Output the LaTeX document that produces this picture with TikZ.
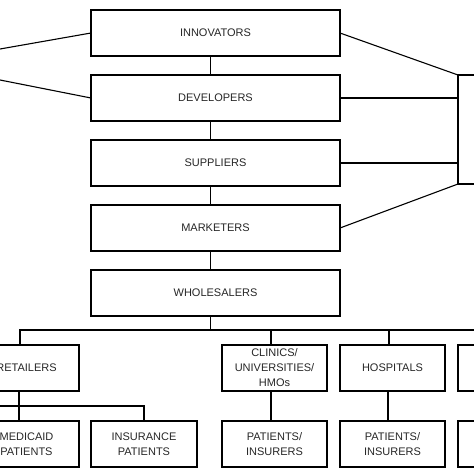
\documentclass[tikz,border=0pt]{standalone}
\usepackage{fontspec}
\setmainfont{Liberation Sans}
\usetikzlibrary{positioning}

\begin{document}
\begin{tikzpicture}[x=1pt,y=-1pt,line width=1.1pt]
\tikzset{stage/.style={rectangle,minimum width=249pt,minimum height=46pt,draw,outer sep=0pt,inner sep=0pt,align=center,text=black!85,font=\fontsize{11}{15}\selectfont}}
\tikzset{outlet/.style={stage,minimum width=105pt}}
\useasboundingbox (0,0) rectangle (474,474);
\clip (0,0) rectangle (474,474);
\node[stage] (innovators) at (215.5,33) {INNOVATORS};
\node[stage, below = 19pt of innovators] (developers) {DEVELOPERS};
\node[stage, below = 19pt of developers] (suppliers) {SUPPLIERS};
\node[stage, below = 19pt of suppliers] (marketers) {MARKETERS};
\node[stage, below = 19pt of marketers] (wholesalers) {WHOLESALERS};
\node[outlet, minimum height=109pt] (oversight) at (510.5,129.5) {};
\node[outlet] (retailers) at (26.5,368) {RETAILERS};
\node[outlet] (clinics) at (274.5,368) {CLINICS/\\UNIVERSITIES/\\HMOs};
\node[outlet, right = 13pt of clinics] (hospitals) {HOSPITALS};
\node[outlet, right = 13pt of hospitals] (others) {};
\node[outlet, below = 30pt of retailers] (medicaid) {MEDICAID\\PATIENTS};
\node[outlet, minimum width=106pt] (insurance) at (144,444) {INSURANCE\\PATIENTS};
\node[outlet, below = 30pt of clinics] (payers1) {PATIENTS/\\INSURERS};
\node[outlet, below = 30pt of hospitals] (payers2) {PATIENTS/\\INSURERS};
\node[outlet, below = 30pt of others] (payers3) {};
\coordinate (leftA) at (0,49);
\coordinate (leftB) at (0,80);
\coordinate (bus) at (480,330);
\coordinate (subbus) at (-10,406);
% chain down the middle
\draw ([xshift=-5pt]innovators.south) -- ([xshift=-5pt]developers.north);
\draw ([xshift=-5pt]developers.south) -- ([xshift=-5pt]suppliers.north);
\draw ([xshift=-5pt]suppliers.south) -- ([xshift=-5pt]marketers.north);
\draw ([xshift=-5pt]marketers.south) -- ([xshift=-5pt]wholesalers.north);
\draw ([xshift=-5pt]wholesalers.south) -- ([xshift=-5pt]wholesalers.south |- bus);
% links to the side boxes
\draw (leftA) -- (innovators.west);
\draw (leftB) -- (developers.west);
\draw (innovators.east) -- (oversight.north west);
\draw (developers.east) -- (developers.east -| oversight.west);
\draw (suppliers.east) -- (suppliers.east -| oversight.west);
\draw (marketers.east) -- (oversight.south west);
% outlets
\draw ([xshift=-6.5pt]retailers.north) |- (bus);
\draw ([xshift=-3.5pt]clinics.north) -- ([xshift=-3.5pt]clinics.north |- bus);
\draw ([xshift=-3.5pt]hospitals.north) -- ([xshift=-3.5pt]hospitals.north |- bus);
\draw (others.north) -- (others.north |- bus);
% customers
\draw ([xshift=-7.5pt]retailers.south) -- ([xshift=-7.5pt]medicaid.north);
\draw (insurance.north) |- (subbus);
\draw ([xshift=-3.5pt]clinics.south) -- ([xshift=-3.5pt]payers1.north);
\draw ([xshift=-4.5pt]hospitals.south) -- ([xshift=-4.5pt]payers2.north);
\draw (others.south) -- (payers3.north);
\end{tikzpicture}
\end{document}
